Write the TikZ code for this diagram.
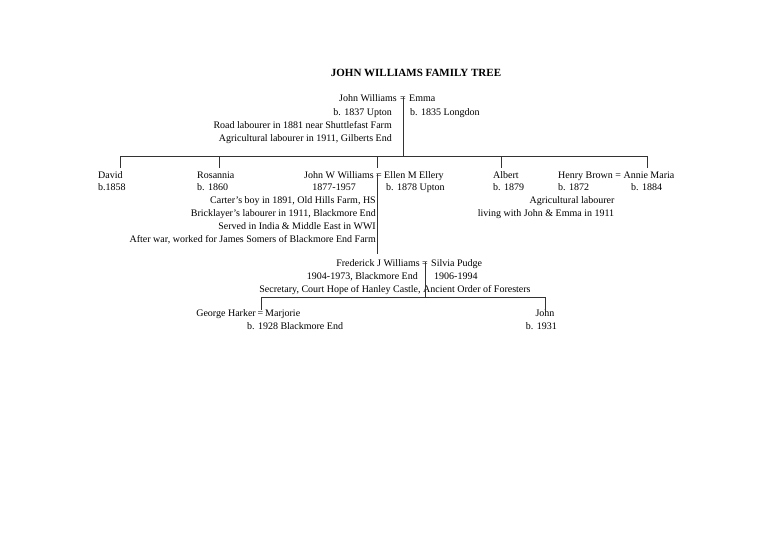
\documentclass[tikz,border=0pt]{standalone}
\usepackage{fontspec}
\setmainfont{Liberation Serif}
\begin{document}
\begin{tikzpicture}[x=1pt,y=-1pt,
  t/.style={inner sep=0pt,font=\fontsize{10}{12}\selectfont},
  L/.style={t,anchor=base west},
  R/.style={t,anchor=base east},
  C/.style={t,anchor=base},
  ln/.style={line width=0.6pt,black!80}]
\useasboundingbox (0,0) rectangle (768,543);
\node[C,font=\fontsize{11}{13}\selectfont\bfseries] (title) at (416,77) {JOHN WILLIAMS FAMILY TREE};
% generation 1
\node[C] (eq1) at (403,101) {=};
\node[R] (jw) at (397,101) {John Williams};
\node[L] (em) at (409,101) {Emma};
\node[R] (jw1) at (392,115) {b. 1837 Upton};
\node[L] (em1) at (410,115) {b. 1835 Longdon};
\node[R] (jw2) at (392,128) {Road labourer in 1881 near Shuttlefast Farm};
\node[R] (jw3) at (392,141) {Agricultural labourer in 1911, Gilberts End};
\coordinate (bar1) at (403,156);
\coordinate (b1a) at (120,156);
\coordinate (b1b) at (647,156);
% generation 2
\node[L] (dv) at (98,178) {David};
\node[L] (dv1) at (98,190) {b.1858};
\node[L] (ro) at (197,178) {Rosannia};
\node[L] (ro1) at (197,190) {b. 1860};
\node[C] (eq2) at (379,178) {=};
\node[R] (jww) at (374,178) {John W Williams};
\node[L] (el) at (384,178) {Ellen M Ellery};
\node[R] (jww1) at (356,190) {1877-1957};
\node[L] (el1) at (386,190) {b. 1878 Upton};
\node[R] (jww2) at (376,203) {Carter's boy in 1891, Old Hills Farm, HS};
\node[R] (jww3) at (376,216) {Bricklayer's labourer in 1911, Blackmore End};
\node[R] (jww4) at (376,229) {Served in India \& Middle East in WWI};
\node[R] (jww5) at (376,242) {After war, worked for James Somers of Blackmore End Farm};
\node[L] (al) at (493,178) {Albert};
\node[L] (al1) at (493,190) {b. 1879};
\node[L] (hb) at (558,178) {Henry Brown = Annie Maria};
\node[L] (hb1) at (558,190) {b. 1872};
\node[L] (am1) at (631,190) {b. 1884};
\node[C] (hb2) at (572,203) {Agricultural labourer};
\node[C] (hb3) at (546,216) {living with John \& Emma in 1911};
\coordinate (d1) at (120,168);
\coordinate (d2) at (219,168);
\coordinate (d3) at (377,168);
\coordinate (d4) at (501,168);
\coordinate (d5) at (647,168);
% generation 3
\node[C] (eq3) at (425,266) {=};
\node[R] (fj) at (420,266) {Frederick J Williams};
\node[L] (sp) at (431,266) {Silvia Pudge};
\node[R] (fj1) at (418,279) {1904-1973, Blackmore End};
\node[L] (sp1) at (434,279) {1906-1994};
\node[C] (fj2) at (395,292) {Secretary, Court Hope of Hanley Castle, Ancient Order of Foresters};
\coordinate (g2top) at (377,174);
\coordinate (g2bot) at (377,254);
\coordinate (g3top) at (425,262);
\coordinate (bar3) at (425,297);
\coordinate (b3a) at (261,297);
\coordinate (b3b) at (545,297);
\coordinate (d6) at (261,310);
\coordinate (d7) at (545,310);
% generation 4
\node[R] (gh) at (256,316) {George Harker};
\node[C] (eq4) at (260.5,316) {=};
\node[L] (mj) at (265,316) {Marjorie};
\node[L] (mj1) at (247,329) {b. 1928 Blackmore End};
\node[C] (jo) at (545,316) {John};
\node[R] (jo1) at (557,329) {b. 1931};
% lines
\draw[ln] (403,97) -- (bar1);
\draw[ln] (b1a) -- (b1b);
\draw[ln] (b1a) -- (d1);
\draw[ln] (d2|-bar1) -- (d2);
\draw[ln] (d3|-bar1) -- (d3);
\draw[ln] (d4|-bar1) -- (d4);
\draw[ln] (b1b) -- (d5);
\draw[ln] (g2top) -- (g2bot);
\draw[ln] (g3top) -- (bar3);
\draw[ln] (b3a) -- (b3b);
\draw[ln] (b3a) -- (d6);
\draw[ln] (b3b) -- (d7);
\end{tikzpicture}
\end{document}
